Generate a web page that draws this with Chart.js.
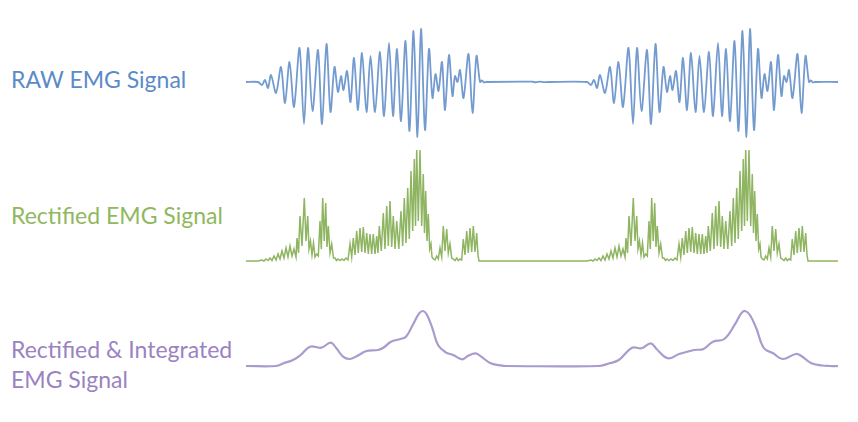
<!DOCTYPE html>
<html>
<head>
<meta charset="utf-8">
<script src="https://cdn.jsdelivr.net/npm/chart.js@4.4.1/dist/chart.umd.min.js"></script>
<style>
  body { margin: 0; background: #fff; width: 858px; height: 422px; overflow: hidden; position: relative; }
  .lbl { position: absolute; left: 11px; font-family: Lato, 'Open Sans', sans-serif; font-size: 23px; line-height: 30px; white-space: nowrap; }
  canvas { position: absolute; left: 246px; }
</style>
</head>
<body>
<div class="lbl" style="top:64px;color:#5b8bc7">RAW EMG Signal</div>
<div class="lbl" style="top:200px;color:#8fb860">Rectified EMG Signal</div>
<div class="lbl" style="top:334px;color:#9b82c2">Rectified &amp; Integrated<br>EMG Signal</div>

<canvas id="rawChart" width="592" height="120" style="top:22px"></canvas>
<canvas id="rectChart" width="592" height="120" style="top:145px"></canvas>
<canvas id="intChart" width="592" height="80" style="top:300px"></canvas>

<script>
// time in ms, amplitude in arbitrary units
const endTime = 592;
const burstOnsets = [12, 341];

// raw signal, one burst, time relative to onset
const rawBurstT = [0, 4, 7, 10, 13, 18, 23, 27, 31.5, 36,
    41.5, 46, 50, 54.5, 60, 64, 68.5, 72.5, 76.5, 80,
    83, 85.5, 89, 92.5, 96, 100, 104, 108.5, 112.5, 117,
    122, 126, 131, 135, 139, 143, 147.5, 151.5, 155.5, 159.5,
    163, 167, 171, 174.5, 177.5, 180.5, 184, 187, 191, 194.5,
    197, 199.5, 202, 205.5, 210.5, 214.5, 218.5, 222, 224, 226, 228];
const rawBurstV = [0, -3, 2, -6, 7, -11, 15, -21, 20, -25,
    34, -42, 34, -29, 32, -42, 38, -30, 15, -10,
    6, -8, 11, -20, 24, -28, 29, -30, 26, -30,
    30, -34, 39, -34, 33, -39, 41, -49, 51, -55,
    53, -48, 33, -16, 8, -9, 20, -28, 27, -14,
    6, 0, 12, -16, 28, -31, 26, 0, 1.5, -0.5, 0];

// small wiggles on the resting line between the bursts
const restT = [286, 290, 294, 298, 302];
const restV = [0.3, -0.3, 0.4, -0.2, 0];

// rectified signal, one burst, time relative to onset
const rectBurstT = [0, 4, 6, 8, 10, 12, 14, 16, 18, 20,
    22, 24, 26, 28, 30, 32, 34, 36, 38, 39,
    40.5, 42, 44, 46.3, 48, 49.7, 51, 52.5, 54, 55.5,
    57, 58.7, 60.3, 62, 63.3, 64.7, 66.2, 67.7, 69, 70.3,
    72, 73.7, 75.5, 77, 78.5, 80, 82, 84, 86, 88,
    90, 92, 93.7, 95.3, 97, 98.7, 100.3, 102, 103.7, 105.3,
    107, 108.7, 110.3, 112, 113.7, 115.3, 117, 118.7, 120, 121.3,
    123.3, 125.3, 127, 128.7, 130.3, 132, 133.7, 135.3, 137, 138.7,
    140.8, 143, 144.7, 146.3, 148, 149.7, 151.3, 153, 154.7, 156.3,
    157.5, 158.7, 160.3, 162, 163.7, 165.3, 166.5, 167.7, 169, 170.3,
    171.7, 173, 174, 175.3, 177, 178.7, 180.3, 182, 183.7, 185.3,
    187, 188.7, 190.3, 192, 193.7, 195.3, 197, 198.7, 200.3, 202,
    203.7, 205.3, 207, 208.7, 210.3, 212, 213.7, 215.3, 217, 218.7,
    220, 221];
const rectBurstV = [0, 1, 0, 2, 0.5, 3, 0.5, 5, 1, 7,
    2, 10, 3, 13, 4, 15, 5, 12, 4, 23,
    8, 45, 15, 63, 20, 45, 12, 20, 6, 18,
    4, 7, 5, 40, 12, 63, 20, 58, 14, 35,
    8, 17, 3, 3, 0.5, 2, 0.5, 2, 0.5, 3,
    1, 17, 4, 23, 6, 30, 8, 33, 9, 34,
    8, 28, 7, 27, 7, 27, 7, 25, 8, 35,
    10, 48, 12, 55, 15, 60, 14, 45, 12, 40,
    12, 50, 15, 63, 18, 73, 22, 90, 30, 102,
    35, 111, 40, 111, 35, 87, 28, 70, 20, 47,
    12, 17, 4, 2, 1, 5, 2, 13, 4, 35,
    10, 32, 8, 17, 3, 2, 0.5, 3, 0.5, 2,
    1, 22, 6, 30, 8, 33, 9, 35, 9, 28,
    6, 0];

// rectified & integrated signal, whole trace
const intT = [0, 30, 37.6, 47, 54.6, 64, 75.3, 84.7, 90.4, 97.1,
    103.5, 111.1, 120.5, 131.8, 137.4, 145, 154.4, 160, 167.6, 173.2,
    177, 180.7, 186.4, 192, 199.6, 207.1, 216.5, 222.2, 229.7, 235.3,
    244.8, 256.1, 259.8, 352.1, 363.4, 372.8, 386, 395.4, 404.8, 410.5,
    421.8, 433.1, 448.1, 457.5, 467, 478.3, 489.5, 495.2, 499, 503.9,
    510.3, 517.8, 527.2, 536.6, 549.8, 555.4, 564.9, 576.2, 583.7, 592];
const intV = [0, 0, 2.7, 6, 11, 19.3, 18.3, 23.3, 17.7, 9.3,
    7, 10, 15, 16, 18.3, 24.3, 27, 29.3, 42.7, 52.7,
    55, 51.7, 37.7, 21, 13.7, 11, 6.7, 10.3, 12.7, 9.3,
    2.7, 0.3, 0, 0, 2.7, 6, 18.3, 17.7, 22.7, 17,
    7.7, 12, 16, 17, 24.3, 27, 42.7, 52.7, 55, 51,
    37.7, 18, 12.7, 7, 12, 10, 3, 0.5, 0, 0];

function burstTrace(times, values, rest) {
    const pts = [{ x: 0, y: 0 }];
    burstOnsets.forEach((onset, i) => {
        times.forEach((t, j) => pts.push({ x: onset + t, y: values[j] }));
        if (i === 0 && rest) {
            rest[0].forEach((t, j) => pts.push({ x: t, y: rest[1][j] }));
        }
    });
    pts.push({ x: endTime, y: 0 });
    return pts;
}

function makeChart(id, data, color, yMin, yMax, tension, width) {
    return new Chart(document.getElementById(id), {
        type: 'line',
        data: {
            datasets: [{
                data: data,
                borderColor: color,
                borderWidth: width,
                pointRadius: 0,
                tension: tension,
                fill: false,
                clip: false
            }]
        },
        options: {
            responsive: false,
            animation: false,
            layout: { padding: 0 },
            plugins: { legend: { display: false }, tooltip: { enabled: false } },
            scales: {
                x: { type: 'linear', display: false, min: 0, max: endTime },
                y: { display: false, min: yMin, max: yMax }
            }
        }
    });
}

makeChart('rawChart', burstTrace(rawBurstT, rawBurstV, [restT, restV]), '#739bcf', -60, 60, 0.3, 1.8);
makeChart('rectChart', burstTrace(rectBurstT, rectBurstV), '#8fb562', -4, 116, 0, 1.5);
makeChart('intChart', intT.map((t, i) => ({ x: t, y: intV[i] })), '#a99bcd', -14, 66, 0.4, 2.2);
</script>
</body>
</html>
